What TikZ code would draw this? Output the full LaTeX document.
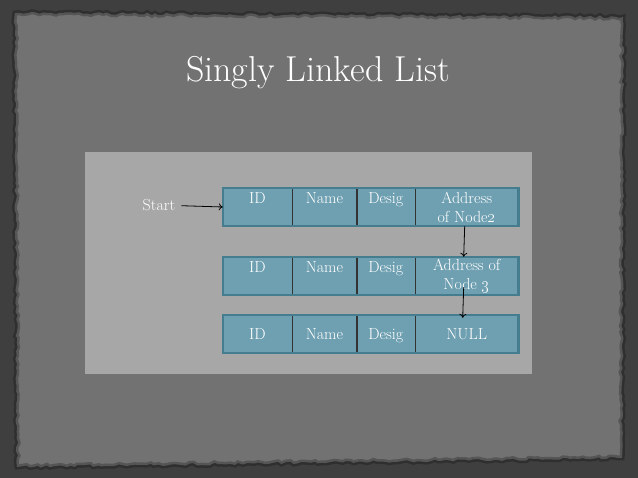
\documentclass[tikz,border=0pt]{standalone}
\usepackage{tikz}
\usepackage{xcolor}
\usetikzlibrary{positioning,arrows.meta,decorations.pathmorphing}
\definecolor{slate}{HTML}{3F3F3F}
\definecolor{paper}{HTML}{727272}
\definecolor{panel}{HTML}{A7A7A7}
\definecolor{cell}{HTML}{6FA0B1}
\definecolor{cellborder}{HTML}{457C8E}
\tikzset{
    list-cell/.style = {draw=black!80, fill=cell, thin, rectangle, inner sep=0pt, minimum height=38pt, text=white, font=\fontsize{16}{19}\selectfont, align=center},
    top-text/.style = {text height=15pt, text depth=21pt},
    mid-text/.style = {text height=11pt, text depth=0pt},
    list-row/.style = {draw=cellborder, line width=2.5pt},
    link-arrow/.style = {-{To[length=4pt, width=7pt]}, line width=0.8pt, black},
    slide-text/.style = {text=white, inner sep=0pt},
}

\begin{document}
\begin{tikzpicture}[x=1pt, y=1pt]
\pgfmathsetseed{7}
\useasboundingbox (0,0) rectangle (638,478);
\fill[slate] (0,0) rectangle (638,478);
\fill[paper, draw=black, draw opacity=0.25, line width=5pt, decorate, decoration={random steps, segment length=4pt, amplitude=1.3pt}]
    (15,465) -- (623,461) -- (622,20) -- (17,11) -- cycle;
\fill[panel] (85,104) rectangle (532,326);

\node[slide-text, anchor=base, font=\fontsize{36}{42}\selectfont] (title) at (318,396) {Singly Linked List};
\node[slide-text, anchor=base, font=\fontsize{16}{19}\selectfont] (start) at (159,267) {Start};

\node[list-cell, top-text, minimum width=69pt] (id1) at (257.5,271) {ID};
\node[list-cell, top-text, minimum width=64pt, right=0pt of id1] (name1) {Name};
\node[list-cell, top-text, minimum width=58pt, right=0pt of name1] (desig1) {Desig};
\node[list-cell, minimum width=103pt, right=0pt of desig1] (addr1) {Address\\of Node\oldstylenums{2}};
\draw[list-row] (id1.north west) rectangle (addr1.south east);

\node[list-cell, top-text, minimum width=69pt] (id2) at (257.5,202) {ID};
\node[list-cell, top-text, minimum width=64pt, right=0pt of id2] (name2) {Name};
\node[list-cell, top-text, minimum width=58pt, right=0pt of name2] (desig2) {Desig};
\node[list-cell, minimum width=103pt, right=0pt of desig2] (addr2) {Address of\\Node \oldstylenums{3}};
\draw[list-row] (id2.north west) rectangle (addr2.south east);

\node[list-cell, mid-text, minimum width=69pt] (id3) at (257.5,144) {ID};
\node[list-cell, mid-text, minimum width=64pt, right=0pt of id3] (name3) {Name};
\node[list-cell, mid-text, minimum width=58pt, right=0pt of name3] (desig3) {Desig};
\node[list-cell, mid-text, minimum width=103pt, right=0pt of desig3] (addr3) {NULL};
\draw[list-row] (id3.north west) rectangle (addr3.south east);

\draw[link-arrow, shorten <=6pt] (start.east) -- (id1.west);
\draw[link-arrow] ([xshift=-2pt]addr1.south) -- ([xshift=-3pt]addr2.north);
\draw[link-arrow] ([xshift=-3pt, yshift=8pt]addr2.south) -- ([xshift=-4pt, yshift=-3pt]addr3.north);
\end{tikzpicture}
\end{document}
